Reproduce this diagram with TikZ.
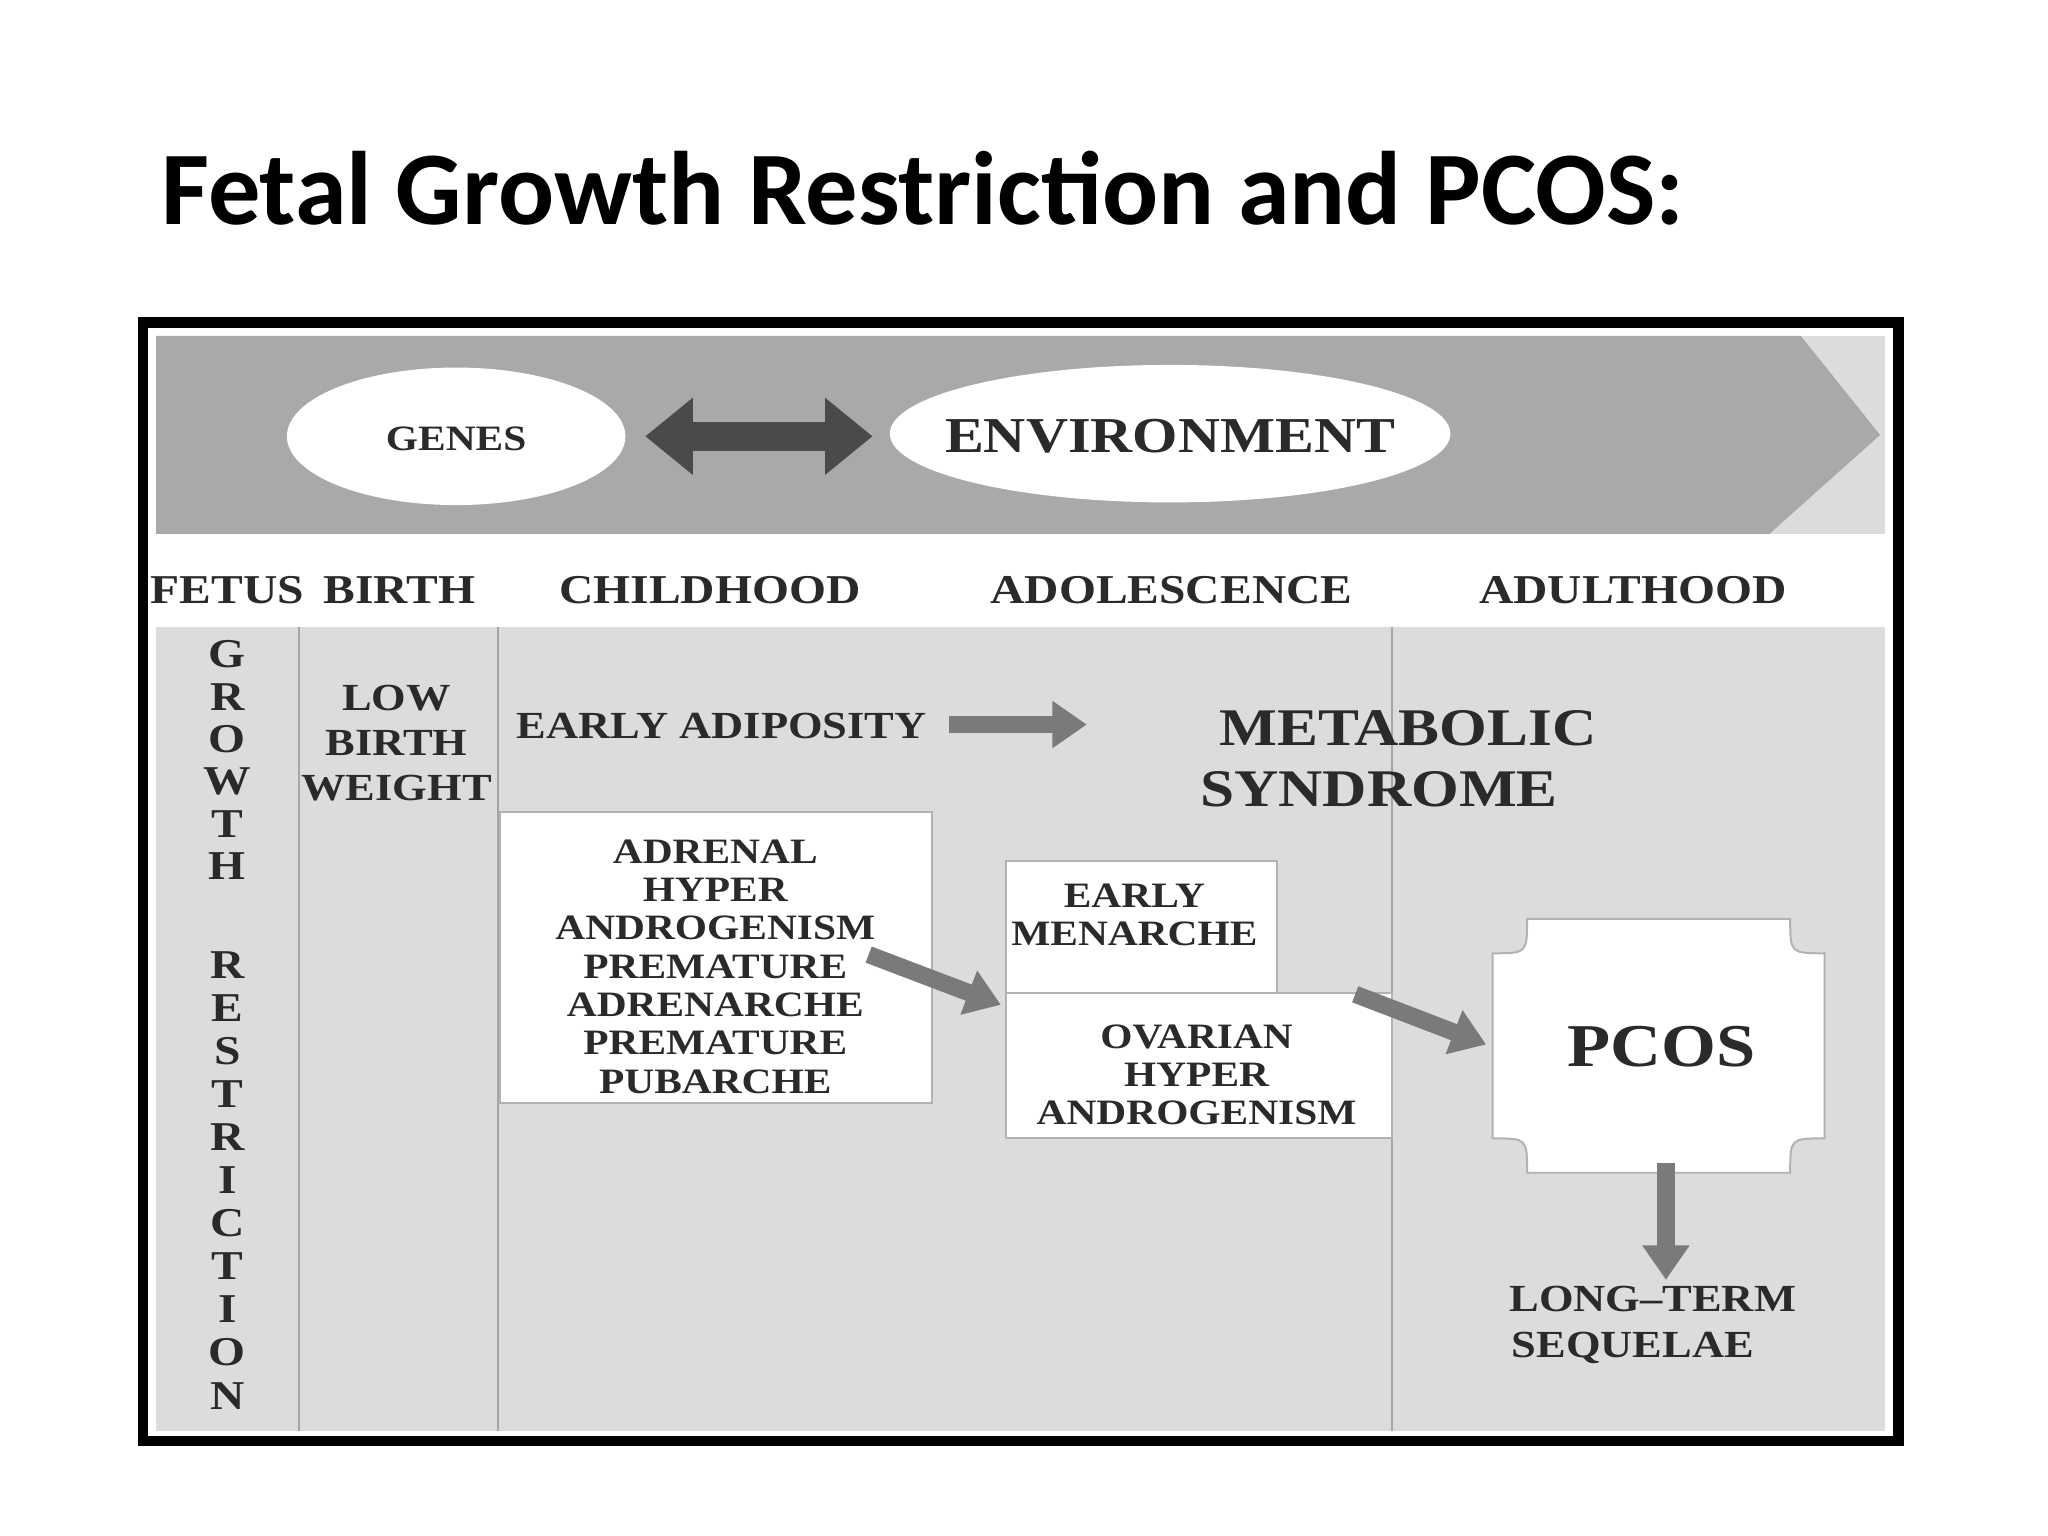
\documentclass[tikz,border=0pt]{standalone}
\usepackage{fontspec}
\setmainfont[FakeStretch=1.16]{Liberation Serif}
\newfontfamily\titlefont{Carlito}
\usetikzlibrary{arrows.meta,shapes.geometric}
\definecolor{bgg}{HTML}{DCDCDC}
\definecolor{band}{HTML}{A9A9A9}
\definecolor{darr}{HTML}{4A4A4A}
\definecolor{garr}{HTML}{7A7A7A}
\definecolor{txt}{HTML}{2A2A2A}
\tikzset{
 lbl/.style={font=\fontsize{31}{31}\selectfont\bfseries, text=txt, inner sep=0pt, align=center},
 sm/.style={font=\fontsize{27}{29}\selectfont\bfseries, text=txt, inner sep=0pt, align=center},
 wbox/.style={fill=white, draw=gray!60, line width=1.5pt},
 fat/.style={draw=garr, line width=13pt, -{Triangle[length=26pt,width=34pt]}, shorten >=0pt},
 vline/.style={draw=gray!70, line width=1.5pt}
}
\begin{document}
\begin{tikzpicture}[x=1pt,y=-1pt]
\useasboundingbox (0,0) rectangle (1549,1161);
\fill[white] (0,0) rectangle (1549,1161);
\node[anchor=base west, font=\titlefont\fontsize{79}{79}\selectfont\bfseries, inner sep=0pt] (title) at (122,170) {Fetal Growth Restriction and PCOS:};
\fill[bgg] (118,254) rectangle (1426,1082);
\fill[band] (118,254) -- (1362,254) -- (1422,329) -- (1338,404) -- (118,404) -- cycle;
\fill[white] (118,404) rectangle (1426,474);
\draw[black, line width=8pt] (108,244) rectangle (1436,1090);
\node[ellipse, fill=white, minimum width=256pt, minimum height=104pt, inner sep=0pt] (genes) at (345,330) {};
\node[sm] at (345,332) {GENES};
\node[fill=white, ellipse, minimum width=424pt, minimum height=104pt, inner sep=0pt] (env) at (885,328) {};
\node[font=\fontsize{38}{38}\selectfont\bfseries, text=txt] at (885,330) {ENVIRONMENT};
\coordinate (da) at (488,330); \coordinate (db) at (660,330);
\draw[darr, line width=22pt, {Triangle[length=36pt,width=56pt]}-{Triangle[length=36pt,width=56pt]}] (da) -- (db);
\node[lbl] (h1) at (172,446) {FETUS};
\node[lbl] (h2) at (302,446) {BIRTH};
\node[lbl] (h3) at (537,446) {CHILDHOOD};
\node[lbl] (h4) at (886,446) {ADOLESCENCE};
\node[lbl] (h5) at (1235,446) {ADULTHOOD};
\draw[vline] (226,474) -- (226,1082);
\draw[vline] (377,474) -- (377,1082);
\draw[vline] (1053,474) -- (1053,1082);
\foreach \l [count=\i] in {G,R,O,W,T,H} \node[lbl] at (172,{463+32*\i}) {\l};
\foreach \l [count=\i] in {R,E,S,T,R,I,C,T,I,O,N} \node[lbl] at (172,{697+32.6*\i}) {\l};
\node[sm, font=\fontsize{29}{34}\selectfont\bfseries] (lbw) at (300,562) {LOW\\BIRTH\\WEIGHT};
\node[sm, font=\fontsize{29}{29}\selectfont\bfseries] (ea) at (546,549) {EARLY ADIPOSITY};
\coordinate (ea1) at (718,548); \coordinate (ea2) at (822,548);
\draw[fat] (ea1) -- (ea2);
\node[font=\fontsize{40}{46}\selectfont\bfseries, text=txt, inner sep=0pt, align=center] (ms) at (1043,574) {\hspace*{44pt}METABOLIC\\SYNDROME};
\node[wbox, minimum width=327pt, minimum height=220pt, inner sep=0pt] (adr) at (541.5,724) {};
\node[sm] at (541,731) {ADRENAL\\HYPER\\ANDROGENISM\\PREMATURE\\ADRENARCHE\\PREMATURE\\PUBARCHE};
\node[wbox, minimum width=205pt, minimum height=100pt, inner sep=0pt] (em) at (863.5,701) {};
\node[sm] at (858,692) {EARLY\\MENARCHE};
\node[wbox, minimum width=292pt, minimum height=110pt, inner sep=0pt] (ov) at (907,806) {};
\node[sm] at (905,813) {OVARIAN\\HYPER\\ANDROGENISM};
\coordinate (a1) at (657,722); \coordinate (a2) at (757,760);
\draw[fat] (a1) -- (a2);
\coordinate (b1) at (1025,752); \coordinate (b2) at (1124,790);
\draw[fat] (b1) -- (b2);
\filldraw[fill=white, draw=gray!60, line width=1.5pt]
 (1155,695) -- (1354,695) .. controls (1354,721) .. (1380,721) -- (1380,861)
 .. controls (1354,861) .. (1354,887) -- (1155,887) .. controls (1155,861) .. (1129,861)
 -- (1129,721) .. controls (1155,721) .. (1155,695) -- cycle;
\node[font=\fontsize{46}{46}\selectfont\bfseries, text=txt] (pcos) at (1257,792) {PCOS};
\coordinate (c1) at (1260,880); \coordinate (c2) at (1260,968);
\draw[fat] (c1) -- (c2);
\node[sm, font=\fontsize{29}{35}\selectfont\bfseries] (lt) at (1250,1002) {LONG--TERM\\\hspace*{-30pt}SEQUELAE};
\end{tikzpicture}
\end{document}
